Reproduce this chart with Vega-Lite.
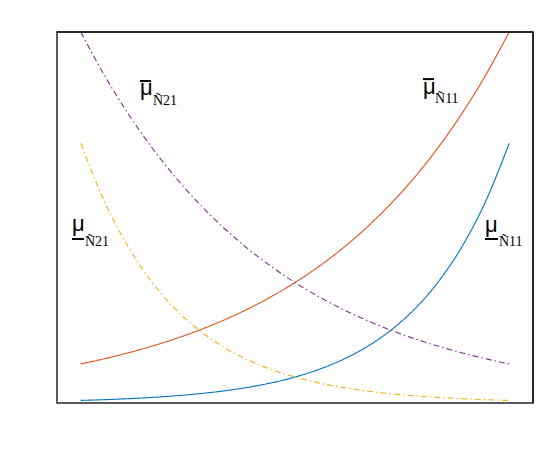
{
  "$schema": "https://vega.github.io/schema/vega-lite/v6.json",
  "width": 476,
  "height": 371,
  "autosize": "none",
  "padding": {"left": 57, "top": 32, "right": 17, "bottom": 55},
  "background": "white",
  "config": {
    "view": {"stroke": "#262626", "strokeWidth": 1.5},
    "axis": {
      "grid": false,
      "labelFont": "Liberation Sans",
      "labelFontSize": 14,
      "labelColor": "#262626",
      "labelFlush": false,
      "titleFont": "Liberation Sans",
      "titleFontSize": 15,
      "titleFontWeight": "normal",
      "titleColor": "#262626",
      "domainColor": "#262626",
      "tickColor": "#262626",
      "tickSize": -5
    }
  },
  "datasets": {
    "curves": [
      {"x": -27, "u11": 0.1054, "l11": 0.007, "u21": 1.0, "l21": 0.7},
      {"x": -24, "u11": 0.1194, "l11": 0.009, "u21": 0.8825, "l21": 0.542},
      {"x": -21, "u11": 0.1353, "l11": 0.0117, "u21": 0.7788, "l21": 0.4197},
      {"x": -18, "u11": 0.1534, "l11": 0.0151, "u21": 0.6873, "l21": 0.3249},
      {"x": -15, "u11": 0.1738, "l11": 0.0195, "u21": 0.6065, "l21": 0.2516},
      {"x": -12, "u11": 0.1969, "l11": 0.0252, "u21": 0.5353, "l21": 0.1948},
      {"x": -9, "u11": 0.2231, "l11": 0.0325, "u21": 0.4724, "l21": 0.1508},
      {"x": -6, "u11": 0.2528, "l11": 0.042, "u21": 0.4169, "l21": 0.1168},
      {"x": -3, "u11": 0.2865, "l11": 0.0542, "u21": 0.3679, "l21": 0.0904},
      {"x": 0, "u11": 0.3247, "l11": 0.07, "u21": 0.3247, "l21": 0.07},
      {"x": 3, "u11": 0.3679, "l11": 0.0904, "u21": 0.2865, "l21": 0.0542},
      {"x": 6, "u11": 0.4169, "l11": 0.1168, "u21": 0.2528, "l21": 0.042},
      {"x": 9, "u11": 0.4724, "l11": 0.1508, "u21": 0.2231, "l21": 0.0325},
      {"x": 12, "u11": 0.5353, "l11": 0.1948, "u21": 0.1969, "l21": 0.0252},
      {"x": 15, "u11": 0.6065, "l11": 0.2516, "u21": 0.1738, "l21": 0.0195},
      {"x": 18, "u11": 0.6873, "l11": 0.3249, "u21": 0.1534, "l21": 0.0151},
      {"x": 21, "u11": 0.7788, "l11": 0.4197, "u21": 0.1353, "l21": 0.0117},
      {"x": 24, "u11": 0.8825, "l11": 0.542, "u21": 0.1194, "l21": 0.009},
      {"x": 27, "u11": 1.0, "l11": 0.7, "u21": 0.1054, "l21": 0.007}
    ],
    "labels": [
      {"tx": -19.54, "ty": 0.83, "t": "μ", "kind": "mu"},
      {"tx": -17.9, "ty": 0.803, "t": "Ñ21", "kind": "sub"},
      {"tx": -28.11, "ty": 0.4636, "t": "μ", "kind": "mu"},
      {"tx": -26.47, "ty": 0.4232, "t": "Ñ21", "kind": "sub"},
      {"tx": 16.13, "ty": 0.833, "t": "μ", "kind": "mu"},
      {"tx": 17.65, "ty": 0.809, "t": "Ñ11", "kind": "sub"},
      {"tx": 23.95, "ty": 0.461, "t": "μ", "kind": "mu"},
      {"tx": 25.71, "ty": 0.4232, "t": "Ñ11", "kind": "sub"}
    ],
    "bars": [
      {"bx": -19.54, "bx2": -18.15, "by": 0.868},
      {"bx": -28.11, "bx2": -26.6, "by": 0.442},
      {"bx": 16.13, "bx2": 17.52, "by": 0.873},
      {"bx": 23.95, "bx2": 25.59, "by": 0.442}
    ],
    "frame": [
      {"edge": "top", "fx": -30, "fx2": 30, "fy": 1, "fy2": 1},
      {"edge": "right", "fx": 30, "fx2": 30, "fy": 0, "fy2": 1}
    ]
  },
  "layer": [
    {
      "data": {"name": "curves"},
      "transform": [{"fold": ["u11", "l11", "u21", "l21"], "as": ["series", "y"]}],
      "mark": {"type": "line", "interpolate": "monotone", "strokeWidth": 1.1},
      "encoding": {
        "x": {"field": "x", "type": "quantitative", "scale": {"domain": [-30, 30], "nice": false},
              "axis": {"orient": "bottom", "title": "x1(t)", "values": [-30, -20, -10, 0, 10, 20, 30], "labelPadding": 15, "titlePadding": 8}},
        "y": {"field": "y", "type": "quantitative", "scale": {"domain": [0, 1], "nice": false},
              "axis": {"orient": "left", "title": "Upper and lower bound membership function of Controller", "values": [0, 0.1, 0.2, 0.3, 0.4, 0.5, 0.6, 0.7, 0.8, 0.9, 1], "format": "~g", "labelPadding": 13, "titleFontSize": 14.5, "titlePadding": 3}},
        "color": {"field": "series", "type": "nominal", "legend": null,
                  "scale": {"domain": ["l11", "u11", "l21", "u21"], "range": ["#0072BD", "#D95319", "#EDB120", "#7E2F8E"]}},
        "strokeDash": {"field": "series", "type": "nominal", "legend": null,
                  "scale": {"domain": ["l11", "u11", "l21", "u21"], "range": [[1, 0], [1, 0], [6, 3, 1.5, 3], [6, 3, 1.5, 3]]}}
      }
    },
    {
      "data": {"name": "bars"},
      "mark": {"type": "rule", "strokeWidth": 2, "color": "black"},
      "encoding": {
        "x": {"field": "bx", "type": "quantitative", "axis": null},
        "x2": {"field": "bx2"},
        "y": {"field": "by", "type": "quantitative", "axis": null}
      }
    },
    {
      "data": {"name": "labels"},
      "transform": [{"filter": "datum.kind == 'mu'"}],
      "mark": {"type": "text", "align": "left", "baseline": "alphabetic", "font": "Liberation Sans", "fontSize": 22, "color": "black"},
      "encoding": {
        "x": {"field": "tx", "type": "quantitative", "axis": null},
        "y": {"field": "ty", "type": "quantitative", "axis": null},
        "text": {"field": "t"}
      }
    },
    {
      "data": {"name": "labels"},
      "transform": [{"filter": "datum.kind == 'sub'"}],
      "mark": {"type": "text", "align": "left", "baseline": "alphabetic", "font": "Liberation Serif", "fontSize": 14, "color": "black"},
      "encoding": {
        "x": {"field": "tx", "type": "quantitative", "axis": null},
        "y": {"field": "ty", "type": "quantitative", "axis": null},
        "text": {"field": "t"}
      }
    },
    {
      "data": {"name": "frame"},
      "mark": {"type": "rule", "color": "#262626", "strokeWidth": 2},
      "encoding": {
        "x": {"field": "fx", "type": "quantitative", "axis": null},
        "x2": {"field": "fx2"},
        "y": {"field": "fy", "type": "quantitative", "axis": null},
        "y2": {"field": "fy2"}
      }
    }
  ]
}
